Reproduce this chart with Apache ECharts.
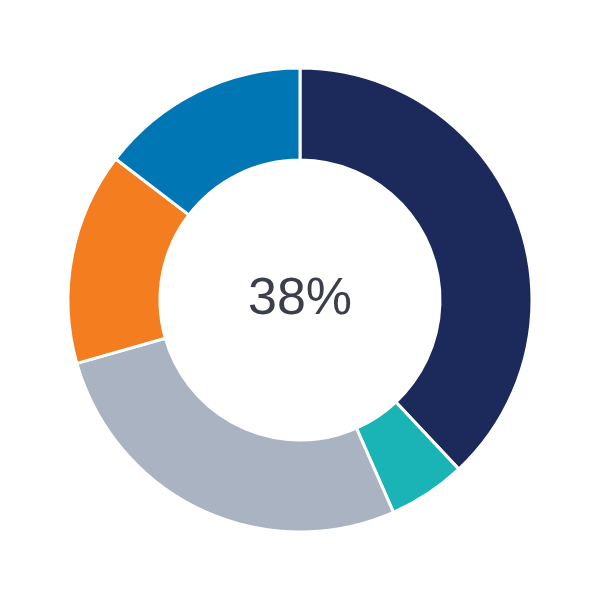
<!DOCTYPE html>
<html>
<head>
<meta charset="utf-8">
<script src="https://cdn.jsdelivr.net/npm/echarts@6/dist/echarts.min.js"></script>
<style>html,body{margin:0;padding:0;background:#fff}#c{width:600px;height:600px}</style>
</head>
<body>
<div id="c"></div>
<script>
const categories = ['A', 'B', 'C', 'D', 'E'];
const values = [38, 5.4, 27.2, 14.8, 14.6];
const colors = ['#1b2a5b', '#1ab3b6', '#a9b3c1', '#f47d20', '#0076b4'];
const centerLabel = '38%';

const chart = echarts.init(document.getElementById('c'), null, {renderer: 'canvas'});
chart.setOption({
  animation: false,
  title: {
    text: centerLabel,
    left: 'center',
    top: 'middle',
    textStyle: {fontFamily: 'Liberation Sans, Arial, sans-serif', fontSize: 52, fontWeight: 'normal', color: '#3a3f4b'}
  },
  series: [{
    type: 'pie',
    center: [300, 300],
    radius: [140, 232],
    startAngle: 90,
    clockwise: true,
    label: {show: false},
    labelLine: {show: false},
    silent: true,
    itemStyle: {borderColor: '#ffffff', borderWidth: 3},
    data: categories.map((c, i) => ({name: c, value: values[i], itemStyle: {color: colors[i]}}))
  }]
});
</script>
</body>
</html>
